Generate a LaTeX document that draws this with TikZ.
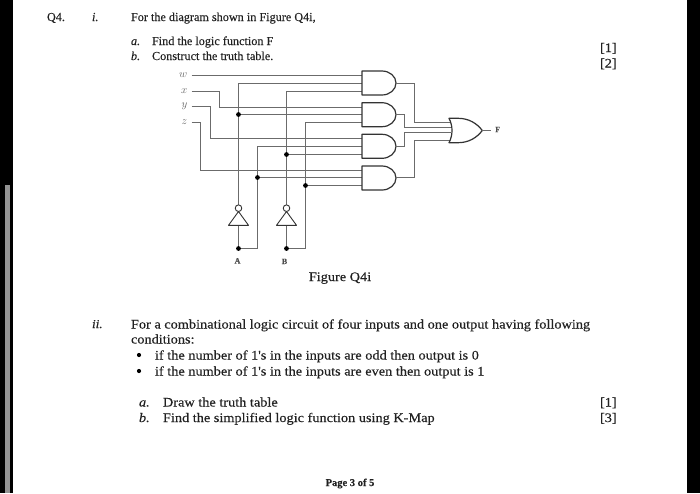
\documentclass[tikz,border=0pt]{standalone}
\usepackage{fontspec}
\setmainfont{Liberation Serif}
\newfontfamily\cam[FakeStretch=1.1,FakeBold=0.35]{Liberation Serif}
\newfontfamily\camit[FakeStretch=1.1,FakeBold=0.35]{Liberation Serif Italic}
\newfontfamily\tnr[FakeBold=0.15]{Liberation Serif}
\definecolor{ink}{gray}{0.13}
\definecolor{wirec}{gray}{0.42}
\definecolor{gatec}{gray}{0.2}
\tikzset{
  txt/.style={anchor=base west,inner sep=0pt,outer sep=0pt,text=ink,font=\tnr\fontsize{12.2}{14}\selectfont},
  camt/.style={anchor=base west,inner sep=0pt,outer sep=0pt,text=ink,font=\cam\fontsize{13}{14}\selectfont},
  sig/.style={anchor=east,inner sep=0pt,text=black!60,font=\fontsize{11}{12}\selectfont},
  port/.style={anchor=base,inner sep=0pt,text=ink!80,font=\tnr\fontsize{8}{9}\selectfont\bfseries},
  wire/.style={draw=wirec,line width=1.4pt},
  gate/.style={draw=gatec,line width=1.2pt,fill=white,line join=round},
  jn/.style={circle,fill=black,inner sep=0pt,minimum size=4.8pt},
}
\begin{document}
\begin{tikzpicture}[x=1pt,y=-1pt]
\useasboundingbox (0,0) rectangle (700,493);
% page frame
\fill[black] (0,0) rectangle (13.3,493);
\fill[black] (686.7,0) rectangle (700,493);
\fill[gray!85] (5,185) rectangle (10,493);
% top text
\node[txt] (q4) at (47,21) {Q4.};
\node[txt,font=\tnr\itshape\fontsize{12.2}{14}\selectfont] (qi) at (92,21) {i.};
\node[txt] (t1) at (131,21) {For the diagram shown in Figure Q4i,};
\node[txt,font=\tnr\itshape\fontsize{12.2}{14}\selectfont] (ta) at (131,45) {a.};
\node[txt] (t2) at (152,45) {Find the logic function F};
\node[txt,font=\tnr\itshape\fontsize{12.2}{14}\selectfont] (tb) at (131,60) {b.};
\node[txt] (t3) at (152,60) {Construct the truth table.};
\node[camt] (m1) at (600,52) {[1]};
\node[camt] (m2) at (600,67.5) {[2]};
% coordinates
\foreach \n/\y in {w/75.5,x/91.5,y/106.5,z/122.5}{\coordinate (s\n) at (191.7,\y);}
\node[sig] (lw) at (187.5,75.5) {$w$};
\node[sig] (lx) at (187.5,91.5) {$x$};
\node[sig] (ly) at (187.5,106.5) {$y$};
\node[sig] (lz) at (187.5,122.5) {$z$};
% gate input points
\foreach \n/\y in {a1/75.5,a2/83.5,a3/91.5,b1/107.5,b2/114.5,b3/122.5,c1/138.5,c2/146.5,c3/154.5,d1/170.5,d2/177.5,d3/185.5}{\coordinate (\n) at (362,\y);}
% gate output points
\coordinate (oa) at (396,83.5);
\coordinate (ob) at (396,114.5);
\coordinate (oc) at (396,146.5);
\coordinate (od) at (396,177.5);
% wires in
\draw[wire] (sw) -- (a1);
\draw[wire] (sx) -| (219.5,107.5) -- (b1);
\draw[wire] (sy) -| (210.5,138.5) -- (c1);
\draw[wire] (sz) -| (200.5,170.5) -- (d1);
% inverter, vertical rails
\coordinate (pa) at (238.5,248.5);
\coordinate (pb) at (286.5,248.5);
\coordinate (ia) at (238.5,205);
\coordinate (ib) at (286.5,205);
\draw[wire] (a2) -| (ia);
\draw[wire] (a3) -| (ib);
\draw[wire] (c2) -| (257.5,248.5) -- (pa);
\draw[wire] (b3) -| (305.5,248.5) -- (pb);
\draw[wire] (pa) -- (ia);
\draw[wire] (pb) -- (ib);
\draw[wire] (238.5,114.5) -- (b2);
\draw[wire] (286.5,154.5) -- (c3);
\draw[wire] (257.5,177.5) -- (d2);
\draw[wire] (305.5,185.5) -- (d3);
\node[jn] (j1) at (238.5,114.5) {};
\node[jn] (j2) at (286.5,154.5) {};
\node[jn] (j3) at (257.5,177.5) {};
\node[jn] (j4) at (305.5,185.5) {};
\node[jn] (j5) at (pa) {};
\node[jn] (j6) at (pb) {};
% inverters
\foreach \c in {238.5,286.5}{
  \draw[gate,line width=.9pt] (\c,211.5) -- (\c+10,225.3) -- (\c-10,225.3) -- cycle;
  \draw[gate,line width=.9pt] (\c,208.2) circle (3.3);
}
\node[port] (pA) at (237.5,263.5) {A};
\node[port] (pB) at (284.5,264) {B};
% AND gates
\foreach \t in {71,102.7,134.3,166}{
  \draw[gate] (362,\t) -- (382,\t) arc[start angle=-90,end angle=90,x radius=14,y radius=12] -- (362,\t+24) -- cycle;
}
% outputs to OR
\coordinate (ora) at (451,122.5);
\coordinate (orb) at (451,127.5);
\coordinate (orc) at (451,132.5);
\coordinate (ord) at (451,140.5);
\draw[wire] (oa) -- (414.5,83.5) |- (ora);
\draw[wire] (ob) -- (404.5,114.5) |- (orb);
\draw[wire] (oc) -- (404.5,146.5) |- (orc);
\draw[wire] (od) -- (414.5,177.5) |- (ord);
% OR gate
\draw[gate] (449,118.3) -- (458,118.3) .. controls (469,118.3) and (477,123.5) .. (482.3,130.5)
  .. controls (477,137.5) and (469,142.7) .. (458,142.7) -- (449,142.7)
  .. controls (453,135) and (453,126) .. (449,118.3) -- cycle;
\coordinate (of) at (491,130.5);
\draw[wire] (482.3,130.5) -- (of);
\node[port,anchor=west] (pF) at (495,129.5) {F};
% middle text
\node[camt,anchor=base] (fig) at (340,281) {Figure Q4i};
\node[camt,font=\camit\fontsize{12}{14}\selectfont] (qii) at (92,328) {ii.};
\node[camt] (p1) at (131,328.5) {For a combinational logic circuit of four inputs and one output having following};
\node[camt] (p2) at (131,343.5) {conditions:};
\node[circle,fill=black,inner sep=0pt,minimum size=4.2pt] (b1n) at (139,355) {};
\node[circle,fill=black,inner sep=0pt,minimum size=4.2pt] (b2n) at (139,371) {};
\node[camt] (p3) at (155,359.5) {if the number of 1's in the inputs are odd then output is 0};
\node[camt] (p4) at (155,375.5) {if the number of 1's in the inputs are even then output is 1};
\node[camt,font=\camit\fontsize{13}{14}\selectfont] (pa2) at (139,406.5) {a.};
\node[camt] (p5) at (163,406.5) {Draw the truth table};
\node[camt,font=\camit\fontsize{13}{14}\selectfont] (pb2) at (139,422) {b.};
\node[camt] (p6) at (163,422) {Find the simplified logic function using K-Map};
\node[camt] (m3) at (600,406.5) {[1]};
\node[camt] (m4) at (600,422) {[3]};
\node[camt,anchor=base,font=\tnr\bfseries\fontsize{10.5}{12}\selectfont] (pg) at (350,486) {Page 3 of 5};
\end{tikzpicture}
\end{document}
